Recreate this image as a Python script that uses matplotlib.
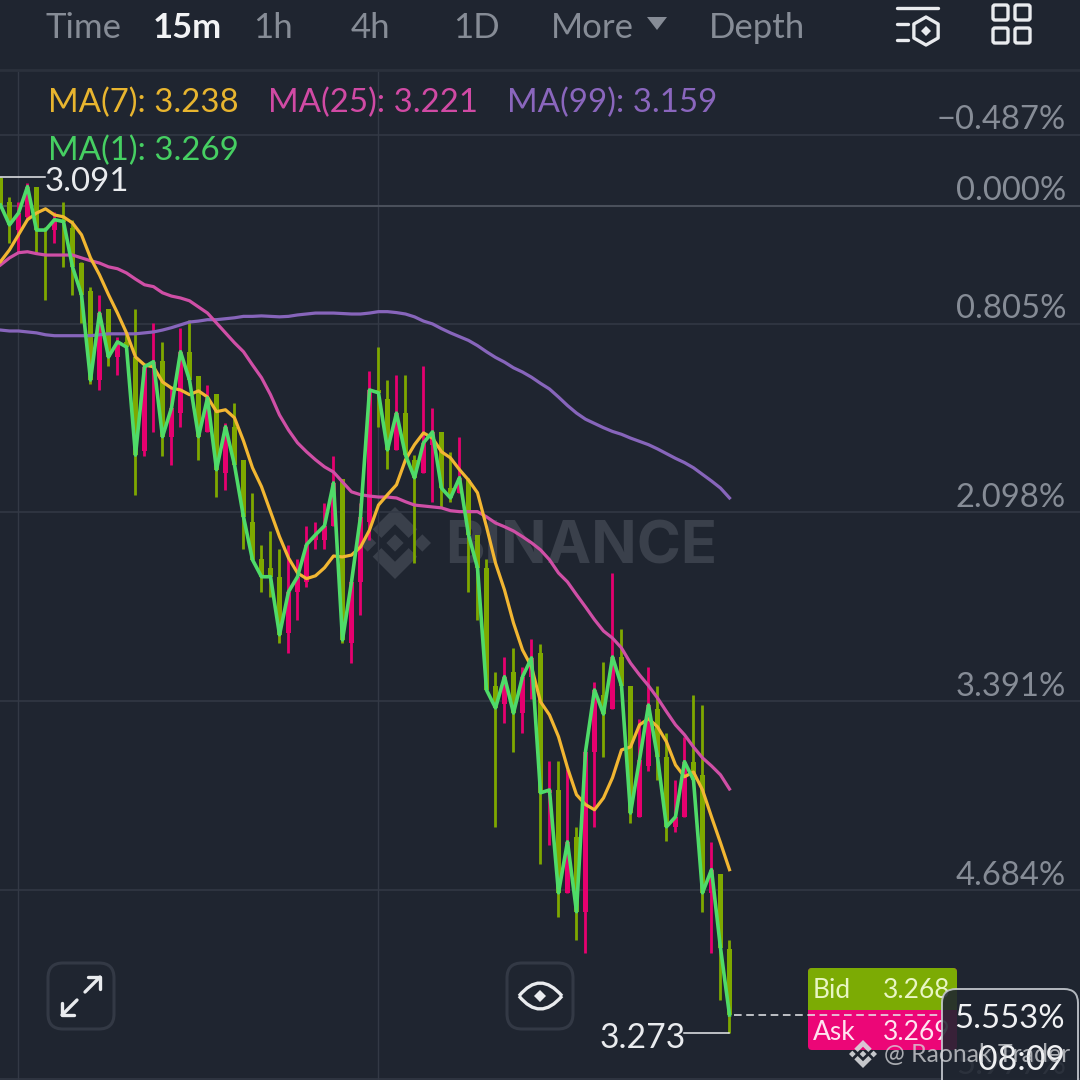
import matplotlib
matplotlib.use('Agg')
import matplotlib.pyplot as plt
from matplotlib.patches import FancyBboxPatch, Polygon, PathPatch, Rectangle
from matplotlib.path import Path
import numpy as np

plt.rcParams['font.family'] = ['Lato', 'DejaVu Sans']

# OHLC (the chart is flipped: higher price is lower on screen)
opens = [3.0911, 3.0961, 3.1021, 3.0993, 3.0929, 3.1019, 3.1021, 3.0999, 3.1016, 3.1091,
         3.1150, 3.1339, 3.1188, 3.1290, 3.1258, 3.1290, 3.1489, 3.1311, 3.1298, 3.1459,
         3.1409, 3.1279, 3.1330, 3.1449, 3.1368, 3.1536, 3.1438, 3.1508, 3.1640, 3.1718,
         3.1737, 3.1756, 3.1875, 3.1788, 3.1767, 3.1678, 3.1678, 3.1648, 3.1548, 3.1896,
         3.1767, 3.1640, 3.1360, 3.1379, 3.1487, 3.1409, 3.1508, 3.1536, 3.1476, 3.1449,
         3.1568, 3.1578, 3.1551, 3.1667, 3.1737, 3.1987, 3.2025, 3.1958, 3.2045, 3.1968,
         3.1917, 3.2214, 3.2208, 3.2426, 3.2307, 3.2466, 3.2127, 3.2006, 3.2036, 3.1926,
         3.1987, 3.2265, 3.2157, 3.2036, 3.2138, 3.2286, 3.2265, 3.2148, 3.2176, 3.2426,
         3.2386, 3.2545]
highs = [3.0972, 3.1048, 3.1068, 3.0999, 3.1070, 3.1169, 3.1048, 3.1099, 3.1158, 3.1218,
         3.1347, 3.1360, 3.1309, 3.1328, 3.1269, 3.1582, 3.1500, 3.1449, 3.1500, 3.1519,
         3.1438, 3.1339, 3.1508, 3.1449, 3.1587, 3.1572, 3.1519, 3.1697, 3.1720, 3.1788,
         3.1799, 3.1896, 3.1917, 3.1847, 3.1777, 3.1697, 3.1697, 3.1648, 3.1896, 3.1939,
         3.1837, 3.1678, 3.1438, 3.1527, 3.1487, 3.1498, 3.1727, 3.1536, 3.1597, 3.1608,
         3.1597, 3.1578, 3.1788, 3.1847, 3.1996, 3.2286, 3.2066, 3.2127, 3.2087, 3.2015,
         3.2365, 3.2324, 3.2477, 3.2426, 3.2526, 3.2553, 3.2286, 3.2138, 3.2036, 3.1987,
         3.2278, 3.2265, 3.2168, 3.2187, 3.2316, 3.2297, 3.2265, 3.2187, 3.2466, 3.2553,
         3.2653, 3.2723]
lows = [3.0908, 3.0951, 3.0961, 3.0921, 3.0929, 3.1015, 3.0982, 3.0961, 3.0999, 3.1088,
        3.1141, 3.1158, 3.1188, 3.1247, 3.1239, 3.1188, 3.1311, 3.1218, 3.1258, 3.1356,
        3.1228, 3.1211, 3.1330, 3.1349, 3.1368, 3.1430, 3.1387, 3.1508, 3.1578, 3.1688,
        3.1659, 3.1697, 3.1688, 3.1718, 3.1648, 3.1640, 3.1599, 3.1500, 3.1548, 3.1767,
        3.1599, 3.1320, 3.1269, 3.1339, 3.1328, 3.1328, 3.1498, 3.1309, 3.1398, 3.1449,
        3.1491, 3.1459, 3.1546, 3.1667, 3.1718, 3.1958, 3.1926, 3.1907, 3.1947, 3.1888,
        3.1898, 3.2146, 3.2146, 3.2163, 3.2286, 3.2127, 3.1979, 3.1936, 3.1748, 3.1866,
        3.1987, 3.2057, 3.1947, 3.1987, 3.2087, 3.2187, 3.2095, 3.2006, 3.2028, 3.2318,
        3.2386, 3.2526]
closes = [3.0968, 3.1010, 3.0985, 3.0929, 3.1021, 3.1021, 3.0999, 3.1003, 3.1099, 3.1158,
          3.1339, 3.1197, 3.1290, 3.1258, 3.1269, 3.1498, 3.1311, 3.1300, 3.1459, 3.1398,
          3.1279, 3.1339, 3.1459, 3.1377, 3.1529, 3.1438, 3.1519, 3.1629, 3.1720, 3.1756,
          3.1756, 3.1879, 3.1788, 3.1756, 3.1688, 3.1667, 3.1648, 3.1557, 3.1890, 3.1767,
          3.1629, 3.1360, 3.1366, 3.1487, 3.1409, 3.1498, 3.1546, 3.1472, 3.1449, 3.1568,
          3.1589, 3.1546, 3.1667, 3.1737, 3.1996, 3.2034, 3.1968, 3.2045, 3.1968, 3.1928,
          3.2214, 3.2208, 3.2426, 3.2318, 3.2466, 3.2127, 3.1996, 3.2047, 3.1926, 3.1987,
          3.2257, 3.2144, 3.2028, 3.2138, 3.2286, 3.2265, 3.2148, 3.2187, 3.2426, 3.2377,
          3.2543, 3.2685]

ma7 = [3.1088, 3.1063, 3.1031, 3.0999, 3.0985, 3.0976, 3.0989, 3.0993, 3.1006, 3.1031,
       3.1080, 3.1116, 3.1158, 3.1197, 3.1239, 3.1290, 3.1307, 3.1311, 3.1343, 3.1356,
       3.1360, 3.1370, 3.1362, 3.1375, 3.1406, 3.1402, 3.1419, 3.1468, 3.1525, 3.1565,
       3.1618, 3.1671, 3.1716, 3.1748, 3.1760, 3.1754, 3.1737, 3.1712, 3.1714, 3.1710,
       3.1693, 3.1657, 3.1604, 3.1582, 3.1561, 3.1508, 3.1476, 3.1451, 3.1462, 3.1491,
       3.1504, 3.1529, 3.1551, 3.1578, 3.1650, 3.1727, 3.1784, 3.1854, 3.1911, 3.1947,
       3.2021, 3.2049, 3.2095, 3.2161, 3.2218, 3.2239, 3.2250, 3.2225, 3.2182, 3.2123,
       3.2117, 3.2070, 3.2057, 3.2074, 3.2106, 3.2155, 3.2180, 3.2170, 3.2208, 3.2265,
       3.2320, 3.2377]
ma25 = [3.1095, 3.1080, 3.1069, 3.1067, 3.1071, 3.1074, 3.1074, 3.1074, 3.1074, 3.1080,
        3.1086, 3.1091, 3.1099, 3.1103, 3.1112, 3.1125, 3.1137, 3.1141, 3.1154, 3.1161,
        3.1165, 3.1171, 3.1184, 3.1197, 3.1218, 3.1239, 3.1260, 3.1279, 3.1307, 3.1334,
        3.1370, 3.1413, 3.1445, 3.1472, 3.1491, 3.1508, 3.1523, 3.1534, 3.1555, 3.1576,
        3.1582, 3.1585, 3.1587, 3.1587, 3.1589, 3.1597, 3.1604, 3.1606, 3.1608, 3.1610,
        3.1616, 3.1618, 3.1618, 3.1618, 3.1629, 3.1642, 3.1650, 3.1659, 3.1671, 3.1684,
        3.1699, 3.1720, 3.1748, 3.1767, 3.1794, 3.1820, 3.1847, 3.1871, 3.1886, 3.1907,
        3.1939, 3.1964, 3.1987, 3.2013, 3.2042, 3.2070, 3.2091, 3.2117, 3.2140, 3.2157,
        3.2176, 3.2206]
ma99 = [3.1233, 3.1235, 3.1235, 3.1237, 3.1239, 3.1243, 3.1245, 3.1245, 3.1245, 3.1245,
        3.1245, 3.1243, 3.1241, 3.1241, 3.1241, 3.1241, 3.1239, 3.1237, 3.1233, 3.1228,
        3.1222, 3.1216, 3.1214, 3.1211, 3.1211, 3.1209, 3.1207, 3.1204, 3.1204, 3.1203,
        3.1204, 3.1205, 3.1204, 3.1201, 3.1199, 3.1197, 3.1197, 3.1197, 3.1198, 3.1199,
        3.1199, 3.1197, 3.1194, 3.1194, 3.1196, 3.1199, 3.1205, 3.1214, 3.1220, 3.1230,
        3.1239, 3.1247, 3.1255, 3.1266, 3.1279, 3.1291, 3.1301, 3.1313, 3.1322, 3.1333,
        3.1346, 3.1358, 3.1375, 3.1393, 3.1409, 3.1422, 3.1431, 3.1440, 3.1448, 3.1454,
        3.1462, 3.1469, 3.1476, 3.1485, 3.1495, 3.1505, 3.1514, 3.1525, 3.1539, 3.1553,
        3.1568, 3.1589]

base_price = 3.097
pct_ticks = [-0.487, 0.0, 0.805, 2.098, 3.391, 4.684, 5.977]
pct_labels = ['−0.487%', '0.000%', '0.805%', '2.098%', '3.391%', '4.684%', '5.977%']
tabs = ['Time', '15m', '1h', '4h', '1D', 'More', 'Depth']
tab_x = [45, 153, 253, 351, 453, 551, 709]
ma_labels = ['MA(7): 3.238', 'MA(25): 3.221', 'MA(99): 3.159', 'MA(1): 3.269']

BG = '#1f2530'
GRID = '#333945'
OLIVE = '#7ea800'
PINK = '#e6006f'
C7 = '#f2b632'
C25 = '#cf4fa6'
C99 = '#8765bb'
C1 = '#4fdb68'
GREY = '#868c96'
WHITE = '#e9ebee'

fig = plt.figure(figsize=(10.8, 10.8), dpi=100, facecolor=BG)

# pixel layer below the chart: grid and watermark
under = fig.add_axes([0, 0, 1, 1], zorder=0)
under.set_xlim(0, 1080)
under.set_ylim(1080, 0)
under.axis('off')


def logo(a, cx, cy, r, color, z=1, alpha=1.0):
    d = 0.24
    for dx in (-0.76, 0, 0.76):
        c = cx + dx * r
        a.add_patch(Polygon([(c, cy - d * r), (c + d * r, cy), (c, cy + d * r), (c - d * r, cy)],
                            color=color, lw=0, zorder=z, alpha=alpha))
    for s in (-1, 1):
        pts = [(0, -1), (0.62, -0.38), (0.38, -0.14), (0, -0.52), (-0.38, -0.14), (-0.62, -0.38)]
        a.add_patch(Polygon([(cx + p[0] * r, cy + s * p[1] * r) for p in pts],
                            color=color, lw=0, zorder=z, alpha=alpha))


under.plot([18, 18], [72, 1080], color=GRID, lw=1)
under.plot([378, 378], [72, 1080], color=GRID, lw=1)
under.plot([0, 1080], [70, 70], color='#2b313c', lw=2)
logo(under, 395, 543, 36, '#3a404b')
under.text(445, 563, 'BINANCE', fontsize=43, fontweight='bold', family='Inter', color='#3a404b',
           va='baseline')

# the chart itself
ax = fig.add_axes([0, 0, 1, 1], zorder=1)
ax.patch.set_alpha(0)
ax.set_xlim(-0.055, 119.945)
ax.set_ylim(3.28229, 3.05333)
ax.axis('off')

x = np.arange(len(closes))
o = np.array(opens)
c = np.array(closes)
colors = [OLIVE if c[i] >= o[i] else PINK for i in x]

for p in pct_ticks:
    price = base_price * (1 + p / 100)
    ax.axhline(price, color='#4a505b' if p == 0 else GRID, lw=1.5 if p == 0 else 1.1, zorder=1)

ax.vlines(x, lows, highs, colors=colors, lw=2.0, zorder=2)
ax.bar(x, np.abs(c - o), bottom=np.minimum(c, o), width=0.66, color=colors, lw=0, zorder=3)

ax.plot(x, ma99, color=C99, lw=2.3, zorder=4)
ax.plot(x, ma25, color=C25, lw=2.3, zorder=5)
ax.plot(x, ma7, color=C7, lw=2.3, zorder=6)
ax.plot(x, closes, color=C1, lw=2.6, zorder=7)

# highest / lowest price marks
ax.plot([0, 5], [min(lows), min(lows)], color=WHITE, lw=1.1, zorder=8)
ax.plot([76, 81], [max(highs), max(highs)], color=WHITE, lw=1.1, zorder=8)
ax.annotate('3.091', xy=(5, min(lows)), xytext=(-1, -10.5), textcoords='offset points',
            fontsize=23.8, color=WHITE, va='baseline', zorder=9)
ax.annotate('3.273', xy=(76, max(highs)), xytext=(1, -11), textcoords='offset points',
            fontsize=24.2, color=WHITE, va='baseline', ha='right', zorder=9)

for p, lab in zip(pct_ticks, pct_labels):
    price = base_price * (1 + p / 100)
    ax.annotate(lab, xy=(1, price), xycoords=('axes fraction', 'data'), xytext=(-10, 4),
                textcoords='offset points', ha='right', va='baseline', fontsize=23.6,
                color=GREY, zorder=9)

# pixel layer on top: toolbar, legend, buttons, bid/ask
top = fig.add_axes([0, 0, 1, 1], zorder=2)
top.patch.set_alpha(0)
top.set_xlim(0, 1080)
top.set_ylim(1080, 0)
top.axis('off')

for t, tx in zip(tabs, tab_x):
    active = t == '15m'
    top.text(tx, 38, t, fontsize=25, color='#f2f3f5' if active else GREY,
             fontweight='bold' if active else 'normal', va='baseline')
top.add_patch(Polygon([(647, 17), (667, 17), (657, 30)], color=GREY, lw=0))

top.text(48, 112, ma_labels[0], fontsize=23.8, color='#e8b52f', va='baseline')
top.text(268, 112, ma_labels[1], fontsize=23.8, color='#d04aa4', va='baseline')
top.text(507, 112, ma_labels[2], fontsize=23.8, color='#8a66bd', va='baseline')
top.text(48, 160, ma_labels[3], fontsize=23.8, color='#46cf62', va='baseline')

# toolbar icons
top.plot([897, 938], [8, 8], color=WHITE, lw=2.4, solid_capstyle='round')
top.plot([897, 908], [24, 24], color=WHITE, lw=2.4, solid_capstyle='round')
top.plot([897, 908], [40, 40], color=WHITE, lw=2.4, solid_capstyle='round')
ang = np.deg2rad(np.arange(-90, 270, 60))
top.add_patch(Polygon(np.c_[926 + 14 * np.cos(ang), 31 + 14 * np.sin(ang)], fill=False,
                      ec=WHITE, lw=2.4, joinstyle='round'))
top.add_patch(Polygon([(926, 26), (931, 31), (926, 36), (921, 31)], color=WHITE, lw=0))
for gx in (993, 1015):
    for gy in (5, 28):
        top.add_patch(FancyBboxPatch((gx, gy), 15, 15, boxstyle='round,pad=0,rounding_size=2',
                                     fill=False, ec=WHITE, lw=2.4))

# round buttons
for bx in (48, 507):
    top.add_patch(FancyBboxPatch((bx, 963), 66, 66, boxstyle='round,pad=0,rounding_size=15',
                                 fc=BG, ec='#333945', lw=2.2))
top.plot([85, 100], [992, 977], color=WHITE, lw=2.4, solid_capstyle='round')
top.plot([88, 100, 100], [977, 977, 989], color=WHITE, lw=2.4, solid_capstyle='round')
top.plot([77, 62], [1000, 1015], color=WHITE, lw=2.4, solid_capstyle='round')
top.plot([62, 62, 74], [1003, 1015, 1015], color=WHITE, lw=2.4, solid_capstyle='round')
eye = Path([(519, 996), (540, 970), (562, 996), (562, 996), (540, 1022), (519, 996)],
           [Path.MOVETO, Path.CURVE3, Path.CURVE3, Path.MOVETO, Path.CURVE3, Path.CURVE3])
top.add_patch(PathPatch(eye, fill=False, ec=WHITE, lw=2.4))
top.add_patch(Polygon([(540, 990), (546, 996), (540, 1002), (534, 996)], color=WHITE, lw=0))

# bid / ask
top.add_patch(FancyBboxPatch((808, 968), 149, 82, boxstyle='round,pad=0,rounding_size=4',
                             fc='#ec0677', ec='none', zorder=2))
top.add_patch(FancyBboxPatch((808, 968), 149, 41, boxstyle='round,pad=0,rounding_size=4',
                             fc='#7cab04', ec='none', zorder=2))
top.add_patch(Rectangle((808, 1003), 149, 7, fc='#7cab04', ec='none', zorder=2))
# last price line, at the last close
top.plot([81.5, 104.6], [closes[-1], closes[-1]], transform=ax.transData, color=WHITE, lw=1.1,
         ls=(0, (5, 3)), zorder=3)
top.text(813, 998, 'Bid', fontsize=19, color='#e9f6c4', va='baseline', zorder=3)
top.text(950, 998, '3.268', fontsize=19, color='#e9f6c4', va='baseline', ha='right', zorder=3)
top.text(813, 1040, 'Ask', fontsize=19, color='#ffe3f0', va='baseline', zorder=3)
top.text(950, 1040, '3.269', fontsize=19, color='#ffe3f0', va='baseline', ha='right', zorder=3)

# last price box
top.add_patch(FancyBboxPatch((942, 989), 136, 110, boxstyle='round,pad=0,rounding_size=14',
                             fc=BG, ec='#c9cdd3', lw=1.4, alpha=0.88, zorder=4))
top.text(1065, 1028, '5.553%', fontsize=23.6, color='#f0f1f3', va='baseline', ha='right', zorder=5)
top.text(1065, 1070, '08:09', fontsize=24.5, color='#f0f1f3', va='baseline', ha='right', zorder=5)

# repost watermark
logo(top, 863, 1054, 14, '#d8dadd', z=6, alpha=0.9)
top.text(884, 1062, '@ Raonak Trader', fontsize=17.8, color='#d8dadd', alpha=0.75,
         va='baseline', zorder=6)

fig.savefig('out.png', dpi=100, facecolor=BG)
